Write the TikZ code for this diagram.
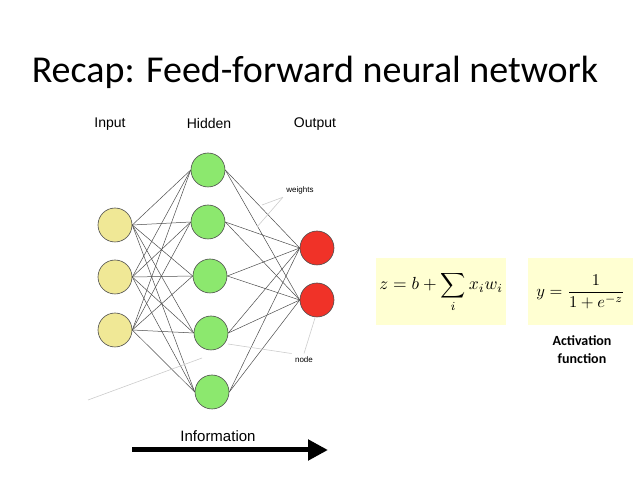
\documentclass[tikz,border=0pt]{standalone}
\usepackage{fontspec}
\setmainfont{Carlito}
\newfontfamily\arial{Liberation Sans}
\usetikzlibrary{arrows.meta}
\pgfdeclarelayer{background}
\pgfsetlayers{background,main}
\definecolor{inpc}{RGB}{240,232,150}
\definecolor{hidc}{RGB}{140,232,110}
\definecolor{outc}{RGB}{240,50,40}
\definecolor{boxc}{RGB}{255,255,210}
\begin{document}
\begin{tikzpicture}[x=1pt,y=-1pt,
  neuron/.style={circle,draw=black!70,line width=0.6pt,minimum size=34pt,inner sep=0pt},
  wire/.style={draw=black!70,line width=0.5pt},
  pointer/.style={draw=black!20,line width=0.6pt},
  lbl/.style={font=\arial\fontsize{14}{16}\selectfont},
  small/.style={font=\arial\fontsize{8}{9}\selectfont},
  fbox/.style={fill=boxc,inner sep=0pt}]
\useasboundingbox (0,0) rectangle (638,478);
\node[font=\fontsize{38}{44}\selectfont] (title) at (315,72) {Recap: Feed-forward neural network};
\node[lbl] (lin) at (110,124) {Input};
\node[lbl] (lhid) at (209,123) {Hidden};
\node[lbl] (lout) at (315,124) {Output};
% neurons
\foreach \i/\y in {1/225,2/277,3/330}
  \node[neuron,fill=inpc] (i\i) at (115,\y) {};
\foreach \i/\x/\y in {1/208/170,2/208/222,3/210/276,4/211/333,5/212/392}
  \node[neuron,fill=hidc] (h\i) at (\x,\y) {};
\foreach \i/\y in {1/248,2/300}
  \node[neuron,fill=outc] (o\i) at (317,\y) {};
\begin{pgfonlayer}{background}
\foreach \a in {1,2,3}
  \foreach \b in {1,...,5}
    \draw[wire] (i\a.east) -- (h\b.west);
\foreach \b in {1,...,5}
  \foreach \c in {1,2}
    \draw[wire] (h\b.east) -- (o\c.west);
\end{pgfonlayer}
% annotations
\node[small] (wts) at (300,190) {weights};
\coordinate (w1) at (262,205);
\coordinate (w2) at (257,227);
\draw[pointer] (wts.south west) -- (w1);
\draw[pointer] (wts.south west) -- (w2);
\node[small] (nd) at (304,360) {node};
\coordinate (n1) at (228,344);
\coordinate (n2) at (315,318);
\draw[pointer] (nd.north west) -- (n1);
\draw[pointer] (nd.north) -- (n2);
\coordinate (s1) at (88,400);
\coordinate (s2) at (202,358);
\draw[pointer] (s1) -- (s2);
% information arrow
\node[lbl,font=\arial\fontsize{15}{17}\selectfont] (info) at (218,436) {Information};
\coordinate (a1) at (132,450);
\coordinate (a2) at (328,450);
\draw[line width=5pt,-{Triangle[length=20pt,width=20pt]}] (a1) -- (a2);
% formulas
\node[fbox,minimum width=130pt,minimum height=67pt,anchor=north west] (f1) at (376,258) {\scalebox{1.75}{$\displaystyle z=b+\sum_i x_i w_i$}};
\node[fbox,minimum width=105pt,minimum height=67pt,anchor=north west] (f2) at (528,258) {\scalebox{1.65}{$\displaystyle y=\frac{1}{1+e^{-z}}$}};
\node[font=\bfseries\fontsize{14}{18}\selectfont,align=center] (act) at (582,350) {Activation\\function};
\end{tikzpicture}
\end{document}
